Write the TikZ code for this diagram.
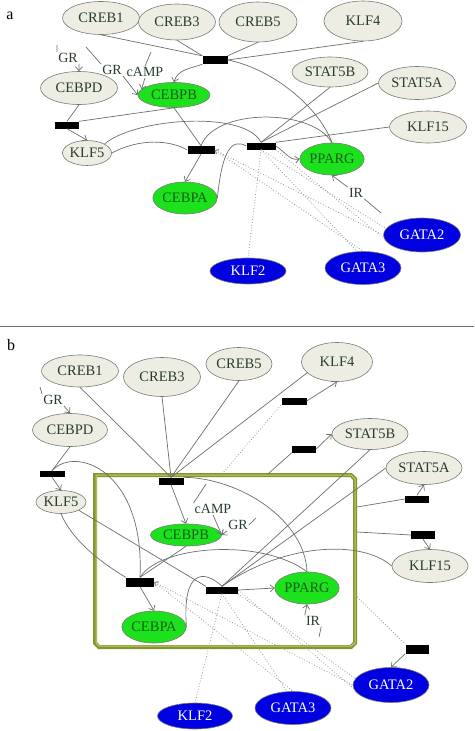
\documentclass[tikz,border=0pt]{standalone}
\usepackage{fontspec}
\setmainfont{Liberation Serif}
\usetikzlibrary{shapes.geometric,arrows.meta}
\definecolor{beige}{RGB}{237,237,228}
\definecolor{ndline}{RGB}{120,125,115}
\definecolor{txtdark}{RGB}{40,62,45}
\definecolor{grfill}{RGB}{30,225,30}
\definecolor{grtext}{RGB}{20,95,20}
\definecolor{blfill}{RGB}{0,0,225}
\definecolor{edgecol}{RGB}{105,112,105}
\definecolor{dotcol}{RGB}{150,153,150}
\definecolor{olive}{RGB}{135,148,45}
\definecolor{olivelt}{RGB}{195,205,115}
\begin{document}
\begin{tikzpicture}[x=1pt,y=-1pt,
  nd/.style={ellipse,draw=ndline,line width=0.6pt,inner sep=0pt,font=\fontsize{14.5}{15}\selectfont},
  gn/.style={nd,fill=beige,text=txtdark},
  grn/.style={nd,fill=grfill,text=grtext},
  bln/.style={nd,fill=blfill,text=white},
  bar/.style={rectangle,fill=black,inner sep=0pt},
  ed/.style={draw=edgecol,line width=0.7pt},
  ar/.style={ed,-{Straight Barb[length=4pt,width=7pt]}},
  dt/.style={draw=dotcol,line width=0.8pt,dotted},
  dta/.style={dt,{Straight Barb[length=3pt,width=5pt]}-},
  lbl/.style={inner sep=1pt,text=txtdark,font=\fontsize{14}{15}\selectfont},
  panel/.style={inner sep=0pt,font=\fontsize{16}{17}\selectfont}
]
\useasboundingbox (0,0) rectangle (474,731);

% ================= panel a =================
\node[panel] (la) at (10,16) {a};
\node[gn,minimum width=77pt,minimum height=33pt] (CREB1a) at (101,18) {CREB1};
\node[gn,minimum width=77pt,minimum height=36pt] (CREB3a) at (177,22) {CREB3};
\node[gn,minimum width=78pt,minimum height=40pt] (CREB5a) at (258,22) {CREB5};
\node[gn,minimum width=78pt,minimum height=40pt] (KLF4a) at (363,21) {KLF4};
\node[gn,minimum width=76pt,minimum height=30pt] (STAT5Ba) at (330,72) {STAT5B};
\node[gn,minimum width=77pt,minimum height=33pt] (STAT5Aa) at (417,83) {STAT5A};
\node[gn,minimum width=77pt,minimum height=32pt] (KLF15a) at (428,127) {KLF15};
\node[gn,minimum width=77pt,minimum height=33pt] (CEBPDa) at (79,88) {CEBPD};
\node[grn,minimum width=72pt,minimum height=25pt] (CEBPBa) at (174,95) {CEBPB};
\node[gn,minimum width=49pt,minimum height=25pt] (KLF5a) at (87,153) {KLF5};
\node[grn,minimum width=61pt,minimum height=32pt] (CEBPAa) at (185,198) {CEBPA};
\node[grn,minimum width=61pt,minimum height=32pt] (PPARGa) at (332,159) {PPARG};
\node[bln,minimum width=77pt,minimum height=34pt] (GATA2a) at (422,235) {GATA2};
\node[bln,minimum width=76pt,minimum height=33pt] (GATA3a) at (363,268) {GATA3};
\node[bln,minimum width=76pt,minimum height=26pt] (KLF2a) at (248,271) {KLF2};

\node[bar,minimum width=25pt,minimum height=8pt] (topbarA) at (215,60) {};
\node[bar,minimum width=24pt,minimum height=7pt] (leftbarA) at (67,125) {};
\node[bar,minimum width=27pt,minimum height=8pt] (midbarA) at (201,150) {};
\node[bar,minimum width=29pt,minimum height=7pt] (rightbarA) at (261,146) {};

\node[lbl] (GRa1) at (68,58) {GR};
\node[lbl] (GRa2) at (112,70) {GR};
\node[lbl] (cAMPa) at (145,72) {cAMP};
\node[lbl] (IRa) at (356,193) {IR};
\coordinate (GRa1s) at (57,45);
\coordinate (GRa2s) at (86,47);
\coordinate (cAMPas) at (151,52);
\coordinate (IRas) at (381,213);

% dotted
\draw[dta] (midbarA.east) -- (GATA2a.west);
\draw[dta] (midbarA.east) -- (GATA3a.north);
\draw[dt] (rightbarA.south) -- (KLF2a.north);
\draw[dt] (rightbarA.south) -- (GATA2a.170);
\draw[dt] (rightbarA.south) -- (GATA3a.110);
\draw[dt] (rightbarA.south east) -- (GATA2a.185);

% solid
\draw[ed] (CREB1a.south) -- (topbarA.north west);
\draw[ed] (CREB3a.south) -- (topbarA.north west);
\draw[ed] (CREB5a.south) -- (topbarA.north east);
\draw[ed] (KLF4a.south) -- (topbarA.east);
\draw[ar] (topbarA.south west) to[out=200,in=75] (CEBPBa.north);
\draw[ed] (topbarA.east) .. controls (270,68) and (318,105) .. (PPARGa.north);
\draw[ed] (CEBPDa.south) -- (leftbarA.north);
\draw[ar] (leftbarA.south) -- (KLF5a.north);
\draw[ed] (CEBPBa.south) -- (leftbarA.north east);
\draw[ed] (CEBPBa.south) -- (midbarA.north);
\draw[ed] (KLF5a.east) .. controls (140,138) and (170,140) .. (midbarA.west);
\draw[ed] (KLF5a.north east) .. controls (135,118) and (245,110) .. (rightbarA.north);
\draw[ed] (midbarA.north) .. controls (215,108) and (312,108) .. (PPARGa.north);
\draw[ed] (CEBPAa.east) .. controls (222,150) and (232,138) .. (rightbarA.west);
\draw[ar] (midbarA.south) -- (CEBPAa.north);
\draw[ar] (rightbarA.east) to[out=-30,in=190] (PPARGa.west);
\draw[ed] (STAT5Ba.south) -- (rightbarA.north);
\draw[ed] (STAT5Aa.west) -- (rightbarA.north);
\draw[ed] (KLF15a.west) -- (rightbarA.north east);

\draw[ed] (GRa1s) -- (GRa1.north west);
\draw[ar] (GRa1.south east) -- (CEBPDa.north);
\draw[ed] (GRa2s) -- (GRa2.north west);
\draw[ar] (GRa2.south east) -- (CEBPBa.west);
\draw[ed] (cAMPas) -- (cAMPa.north);
\draw[ar] (cAMPa.south) -- (CEBPBa.170);
\draw[ar] (IRa.north west) -- (PPARGa.south);
\draw[ed] (IRa.south east) -- (IRas);

% separator
\coordinate (sepL) at (0,326);
\coordinate (sepR) at (474,326);
\draw[draw=edgecol,line width=0.8pt] (sepL) -- (sepR);

% ================= panel b =================
\node[panel] (lb) at (11,345) {b};

% compartment box
\draw[olive,line width=4pt] (95,475) -- (351,475) -- (355,479) -- (355,643) -- (351,647) -- (99,647) -- (95,643) -- cycle;
\draw[olivelt,line width=1pt] (96,475) -- (351,475) -- (355,479) -- (355,643) -- (351,646) -- (99,646) -- (96,643) -- cycle;

\node[gn,minimum width=77pt,minimum height=32pt] (CREB1b) at (80,371) {CREB1};
\node[gn,minimum width=77pt,minimum height=39pt] (CREB3b) at (162,377) {CREB3};
\node[gn,minimum width=66pt,minimum height=33pt] (CREB5b) at (239,364) {CREB5};
\node[gn,minimum width=71pt,minimum height=39pt] (KLF4b) at (337,362) {KLF4};
\node[gn,minimum width=76pt,minimum height=31pt] (STAT5Bb) at (370,434) {STAT5B};
\node[gn,minimum width=76pt,minimum height=33pt] (STAT5Ab) at (424,468) {STAT5A};
\node[gn,minimum width=76pt,minimum height=33pt] (KLF15b) at (430,566) {KLF15};
\node[gn,minimum width=75pt,minimum height=33pt] (CEBPDb) at (70,430) {CEBPD};
\node[gn,minimum width=50pt,minimum height=23pt] (KLF5b) at (61,502) {KLF5};
\node[grn,minimum width=71pt,minimum height=22pt] (CEBPBb) at (186,535) {CEBPB};
\node[grn,minimum width=61pt,minimum height=32pt] (PPARGb) at (307,588) {PPARG};
\node[grn,minimum width=60pt,minimum height=32pt] (CEBPAb) at (154,627) {CEBPA};
\node[bln,minimum width=76pt,minimum height=35pt] (GATA2b) at (391,685) {GATA2};
\node[bln,minimum width=76pt,minimum height=33pt] (GATA3b) at (293,708) {GATA3};
\node[bln,minimum width=75pt,minimum height=26pt] (KLF2b) at (195,716) {KLF2};

\node[bar,minimum width=25pt,minimum height=7pt] (barKLF4) at (294,401) {};
\node[bar,minimum width=24pt,minimum height=7pt] (barS5B) at (304,449) {};
\node[bar,minimum width=24pt,minimum height=7pt] (barS5A) at (417,499) {};
\node[bar,minimum width=24pt,minimum height=8pt] (barK15) at (423,535) {};
\node[bar,minimum width=23pt,minimum height=9pt] (barG2) at (417,649) {};
\node[bar,minimum width=25pt,minimum height=6pt] (leftbarB) at (52,474) {};
\node[bar,minimum width=25pt,minimum height=7pt] (topbarB) at (171,481) {};
\node[bar,minimum width=28pt,minimum height=9pt] (cebbarB) at (140,582) {};
\node[bar,minimum width=32pt,minimum height=7pt] (midbarB) at (222,590) {};

\node[lbl] (GRb1) at (53,400) {GR};
\node[lbl] (cAMPb) at (213,509) {cAMP};
\node[lbl] (GRb2) at (238,525) {GR};
\node[lbl] (IRb) at (313,621) {IR};
\coordinate (GRb1s) at (40,387);
\coordinate (cAMPbs) at (206,484);
\coordinate (GRb2s) at (256,518);
\coordinate (IRbs) at (319,637);

\coordinate (boxK) at (222,474);
\coordinate (boxT) at (268,474);
\coordinate (boxR1) at (357,507);
\coordinate (boxR2) at (357,532);
\coordinate (boxR3) at (357,597);

% dotted
\draw[dt] (boxK) -- (barKLF4.south west);
\draw[dt] (boxR3) -- (barG2.north west);
\draw[dta] (cebbarB.east) -- (GATA3b.north);
\draw[dta] (cebbarB.east) -- (GATA2b.west);
\draw[dt] (midbarB.south) -- (KLF2b.north);
\draw[dt] (midbarB.south) -- (GATA3b.110);
\draw[dt] (midbarB.south east) -- (GATA2b.170);
\draw[dt] (midbarB.east) -- (GATA2b.185);

% solid
\draw[ed] (CREB1b.south) -- (topbarB.north);
\draw[ed] (CREB3b.south) -- (topbarB.north);
\draw[ed] (CREB5b.south) -- (topbarB.north);
\draw[ed] (KLF4b.200) -- (topbarB.north);
\draw[ed] (CEBPDb.south) -- (leftbarB.north);
\draw[ar] (leftbarB.south) -- (KLF5b.north);
\draw[ed] (leftbarB.north) .. controls (75,445) and (145,470) .. (cebbarB.north);
\draw[ed] (KLF5b.south) .. controls (72,540) and (100,562) .. (cebbarB.north west);
\draw[ed] (KLF5b.south east) -- (midbarB.north west);
\draw[ed] (CEBPBb.south) -- (cebbarB.north);
\draw[ar] (topbarB.south) -- (CEBPBb.north);
\draw[ed] (topbarB.north east) .. controls (240,478) and (305,520) .. (PPARGb.north);
\draw[ar] (cebbarB.south) -- (CEBPAb.north);
\draw[ed] (cebbarB.north) .. controls (160,545) and (262,538) .. (PPARGb.north);
\draw[ed] (CEBPAb.east) .. controls (182,568) and (205,570) .. (midbarB.north);
\draw[ar] (midbarB.east) -- (PPARGb.west);
\draw[ed] (STAT5Bb.south) -- (midbarB.north);
\draw[ed] (STAT5Ab.west) -- (midbarB.north);
\draw[ed] (KLF15b.west) .. controls (360,538) and (280,545) .. (midbarB.north);

\draw[ed] (boxT) -- (barS5B.south west);
\draw[ar] (barS5B.east) -- (STAT5Bb.west);
\draw[ar] (barKLF4.east) -- (KLF4b.south);
\draw[ed] (boxR1) -- (barS5A.west);
\draw[ar] (barS5A.north) -- (STAT5Ab.south);
\draw[ed] (boxR2) -- (barK15.west);
\draw[ar] (barK15.south) -- (KLF15b.north);
\draw[ar] (barG2.south west) -- (GATA2b.north);

\draw[ed] (GRb1s) -- (GRb1.north west);
\draw[ar] (GRb1.south east) -- (CEBPDb.north);
\draw[ed] (cAMPbs) -- (cAMPb.north west);
\draw[ar] (cAMPb.south) -- (CEBPBb.east);
\draw[ed] (GRb2s) -- (GRb2.east);
\draw[ar] (GRb2.south west) -- (CEBPBb.east);
\draw[ar] (IRb.north west) -- (PPARGb.south);
\draw[ed] (IRb.south east) -- (IRbs);
\end{tikzpicture}
\end{document}
